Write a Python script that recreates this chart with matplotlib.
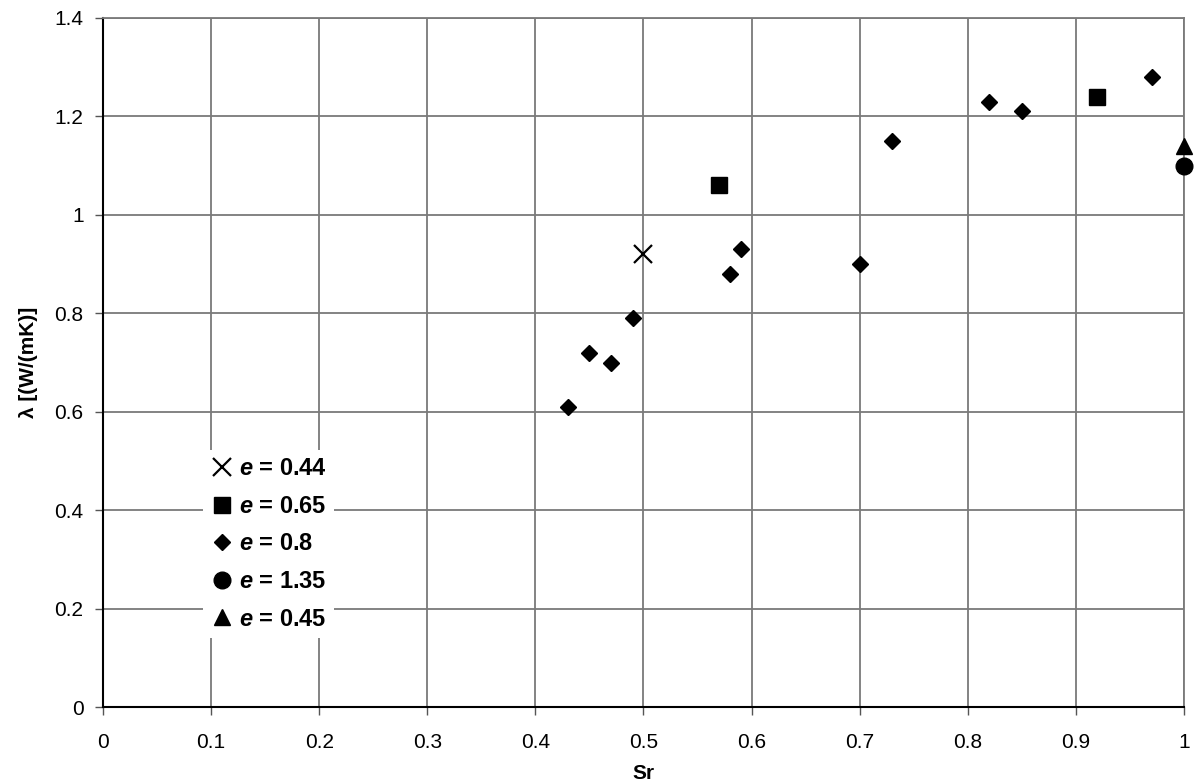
import matplotlib
matplotlib.use("Agg")
import matplotlib.pyplot as plt

plt.rcParams['font.family'] = ['Liberation Sans', 'DejaVu Sans']
plt.rcParams['mathtext.fontset'] = 'custom'
plt.rcParams['mathtext.it'] = 'Liberation Sans:italic:bold'
plt.rcParams['mathtext.rm'] = 'Liberation Sans:bold'

# Data
x_044 = [0.50]
y_044 = [0.92]
x_065 = [0.57, 0.92]
y_065 = [1.06, 1.24]
x_08 = [0.43, 0.45, 0.47, 0.49, 0.58, 0.59, 0.70, 0.73, 0.82, 0.85, 0.97]
y_08 = [0.61, 0.72, 0.70, 0.79, 0.88, 0.93, 0.90, 1.15, 1.23, 1.21, 1.28]
x_135 = [1.00]
y_135 = [1.10]
x_045 = [1.00]
y_045 = [1.14]
xticks = [0, 0.1, 0.2, 0.3, 0.4, 0.5, 0.6, 0.7, 0.8, 0.9, 1]
xticklabels = ['0', '0.1', '0.2', '0.3', '0.4', '0.5', '0.6', '0.7', '0.8', '0.9', '1']
yticks = [0, 0.2, 0.4, 0.6, 0.8, 1.0, 1.2, 1.4]
yticklabels = ['0', '0.2', '0.4', '0.6', '0.8', '1', '1.2', '1.4']

fig = plt.figure(figsize=(12.01, 7.81), dpi=100)
ax = fig.add_axes([0.0858, 0.0947, 0.9, 0.8823])

ax.plot(x_044, y_044, ls='none', marker='x', ms=13, mew=1.6, color='black', label=r'$e$ = 0.44', clip_on=False, zorder=5)
ax.plot(x_065, y_065, ls='none', marker='s', ms=11, color='black', label=r'$e$ = 0.65', clip_on=False, zorder=5)
ax.plot(x_08, y_08, ls='none', marker='D', ms=8, color='black', label=r'$e$ = 0.8', clip_on=False, zorder=5)
ax.plot(x_135, y_135, ls='none', marker='o', ms=12, color='black', label=r'$e$ = 1.35', clip_on=False, zorder=5)
ax.plot(x_045, y_045, ls='none', marker='^', ms=11, color='black', label=r'$e$ = 0.45', clip_on=False, zorder=5)

ax.set_xlim(0, 1)
ax.set_ylim(0, 1.4)
ax.set_xticks(xticks)
ax.set_xticklabels(xticklabels)
ax.set_yticks(yticks)
ax.set_yticklabels(yticklabels)
ax.tick_params(axis='both', labelsize=15, direction='out', length=6, width=1, color='#555555')
ax.tick_params(axis='x', pad=13)
ax.tick_params(axis='y', pad=8)
ax.grid(True, color='#7a7a7a', linewidth=1.3)
ax.set_axisbelow(True)
for s in ['top', 'right']:
    ax.spines[s].set_color('#7a7a7a')
    ax.spines[s].set_linewidth(1.3)
for s in ['left', 'bottom']:
    ax.spines[s].set_color('black')
    ax.spines[s].set_linewidth(1.5)

ax.set_xlabel('Sr', fontsize=15, fontweight='bold', labelpad=8)
ax.set_ylabel('λ [(W/(mK)]', fontsize=15, fontweight='bold', labelpad=12)

leg = ax.legend(loc='upper left', bbox_to_anchor=(0.082, 0.39), frameon=True,
                facecolor='white', edgecolor='white', framealpha=1,
                prop={'size': 17, 'weight': 'bold'}, handletextpad=0.2,
                handlelength=1.0, labelspacing=0.62, borderpad=0.3, numpoints=1)
leg.get_frame().set_linewidth(0)

fig.savefig('out.png', dpi=100)
